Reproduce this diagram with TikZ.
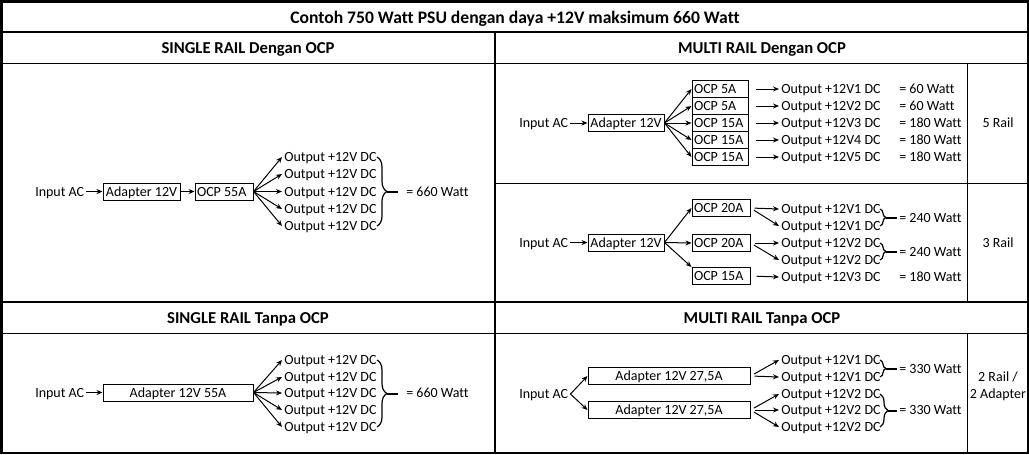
\documentclass[tikz,border=0pt]{standalone}
\usepackage{fontspec}
\setmainfont{Carlito}[Ligatures=NoCommon]
\usetikzlibrary{arrows.meta,decorations.pathreplacing}

\tikzset{
  every node/.style={font=\fontsize{10.5pt}{12.75pt}\selectfont, inner sep=1.5pt,
    text height=8pt, text depth=0.8pt},
  judul/.style={font=\fontsize{13.2pt}{15pt}\selectfont\bfseries, text height=9.6pt, text depth=0.6pt},
  kepala/.style={font=\fontsize{12.5pt}{15pt}\selectfont\bfseries, text height=9.2pt, text depth=0.6pt},
  blok/.style={draw, line width=0.75pt, minimum height=12.75pt, inner ysep=0pt},
  ocp/.style={blok, text width=#1, align=flush left},
  panah/.style={-{Stealth[length=4.5pt,width=3.75pt]}, line width=0.75pt},
  kurung/.style={decorate, decoration={brace, amplitude=#1}, line width=0.9pt},
  garis/.style={line width=0.75pt},
  tebal/.style={line width=1.5pt},
}

\begin{document}
\begin{tikzpicture}[x=0.75pt, y=-0.75pt]
  \useasboundingbox (0,0) rectangle (1029,454);

  % tabel
  \draw[line width=1.875pt] (1.25,1.25) rectangle (1027.75,452.75);
  \draw[tebal] (0,32) -- (1029,32);
  \draw[tebal] (0,302) -- (1029,302);
  \draw[tebal] (495,32) -- (495,454);
  \draw[garis] (0,63) -- (1029,63);
  \draw[garis] (0,333) -- (1029,333);
  \draw[garis] (495,183) -- (1029,183);
  \draw[garis] (967,63) -- (967,302);
  \draw[garis] (967,333) -- (967,454);

  \node[judul] (judul) at (515,17) {Contoh 750 Watt PSU dengan daya +12V maksimum 660 Watt};
  \node[kepala] (kepalaA) at (248,48) {SINGLE RAIL Dengan OCP};
  \node[kepala] (kepalaB) at (762,48) {MULTI RAIL Dengan OCP};
  \node[kepala] (kepalaE) at (248,318) {SINGLE RAIL Tanpa OCP};
  \node[kepala] (kepalaD) at (762,318) {MULTI RAIL Tanpa OCP};

  % single rail dengan OCP
  \node[anchor=west] (inA) at (33,191.5) {Input AC};
  \node[blok, minimum width=57.75pt] (adpA) at (141.5,191.5) {Adapter 12V};
  \node[ocp=40.5pt] (ocpA) at (224,191.5) {OCP 55A};
  \node[anchor=west] (oA1) at (282,157) {Output +12V DC};
  \node[anchor=west] (oA2) at (282,174) {Output +12V DC};
  \node[anchor=west] (oA3) at (282,191.5) {Output +12V DC};
  \node[anchor=west] (oA4) at (282,209) {Output +12V DC};
  \node[anchor=west] (oA5) at (282,226) {Output +12V DC};
  \node[anchor=west] (wA) at (404,191.5) {= 660 Watt};
  \draw[panah] (inA) -- (adpA);
  \draw[panah] (adpA) -- (ocpA);
  \draw[panah] (ocpA.east) -- (oA1.west);
  \draw[panah] (ocpA.east) -- (oA2.west);
  \draw[panah] (ocpA.east) -- (oA3.west);
  \draw[panah] (ocpA.east) -- (oA4.west);
  \draw[panah] (ocpA.east) -- (oA5.west);
  \draw[kurung=7.5pt] (377,157) -- (377,226);
  \draw[tebal] (387,191.5) -- (398,191.5);

  % multi rail dengan OCP, 5 rail
  \node[anchor=west] (inB) at (517,123) {Input AC};
  \node[blok, minimum width=57pt] (adpB) at (626,123) {Adapter 12V};
  \node[ocp=39pt] (ocpB1) at (720,89) {OCP 5A};
  \node[ocp=39pt] (ocpB2) at (720,106) {OCP 5A};
  \node[ocp=39pt] (ocpB3) at (720,123) {OCP 15A};
  \node[ocp=39pt] (ocpB4) at (720,140) {OCP 15A};
  \node[ocp=39pt] (ocpB5) at (720,157) {OCP 15A};
  \node[anchor=west] (oB1) at (779,89) {Output +12V1 DC};
  \node[anchor=west] (oB2) at (779,106) {Output +12V2 DC};
  \node[anchor=west] (oB3) at (779,123) {Output +12V3 DC};
  \node[anchor=west] (oB4) at (779,140) {Output +12V4 DC};
  \node[anchor=west] (oB5) at (779,157) {Output +12V5 DC};
  \node[anchor=west] (wB1) at (897,89) {= 60 Watt};
  \node[anchor=west] (wB2) at (897,106) {= 60 Watt};
  \node[anchor=west] (wB3) at (897,123) {= 180 Watt};
  \node[anchor=west] (wB4) at (897,140) {= 180 Watt};
  \node[anchor=west] (wB5) at (897,157) {= 180 Watt};
  \node (railB) at (998,123) {5 Rail};
  \draw[panah] (inB) -- (adpB);
  \draw[panah] (adpB.east) -- (ocpB1.west);
  \draw[panah] (adpB.east) -- (ocpB2.west);
  \draw[panah] (adpB.east) -- (ocpB3.west);
  \draw[panah] (adpB.east) -- (ocpB4.west);
  \draw[panah] (adpB.east) -- (ocpB5.west);
  \draw[panah, shorten <=5.25pt] (ocpB1) -- (oB1);
  \draw[panah, shorten <=5.25pt] (ocpB2) -- (oB2);
  \draw[panah, shorten <=5.25pt] (ocpB3) -- (oB3);
  \draw[panah, shorten <=5.25pt] (ocpB4) -- (oB4);
  \draw[panah, shorten <=5.25pt] (ocpB5) -- (oB5);

  % multi rail dengan OCP, 3 rail
  \node[anchor=west] (inC) at (517,242.5) {Input AC};
  \node[blok, minimum width=57pt] (adpC) at (626,242.5) {Adapter 12V};
  \node[ocp=40.5pt] (ocpC1) at (721,208) {OCP 20A};
  \node[ocp=40.5pt] (ocpC2) at (721,243) {OCP 20A};
  \node[ocp=40.5pt] (ocpC3) at (721,276) {OCP 15A};
  \node[anchor=west] (oC1) at (779,209) {Output +12V1 DC};
  \node[anchor=west] (oC2) at (779,226) {Output +12V1 DC};
  \node[anchor=west] (oC3) at (779,243) {Output +12V2 DC};
  \node[anchor=west] (oC4) at (779,260) {Output +12V2 DC};
  \node[anchor=west] (oC5) at (779,277) {Output +12V3 DC};
  \node[anchor=west] (wC1) at (897,217.5) {= 240 Watt};
  \node[anchor=west] (wC2) at (897,251.5) {= 240 Watt};
  \node[anchor=west] (wC3) at (897,277) {= 180 Watt};
  \node (railC) at (998,243) {3 Rail};
  \draw[panah] (inC) -- (adpC);
  \draw[panah] (adpC.east) -- (ocpC1.west);
  \draw[panah] (adpC.east) -- (ocpC2.west);
  \draw[panah] (adpC.east) -- (ocpC3.north west);
  \draw[panah, shorten <=3pt] (ocpC1.east) -- (oC1.west);
  \draw[panah, shorten <=3pt] (ocpC1.east) -- (oC2.west);
  \draw[panah, shorten <=3pt] (ocpC2.east) -- (oC3.west);
  \draw[panah, shorten <=3pt] (ocpC2.east) -- (oC4.west);
  \draw[panah, shorten <=4.5pt] (ocpC3.east) -- (oC5.west);
  \draw[kurung=4.5pt] (880,209) -- (880,226);
  \draw[tebal] (886,217.5) -- (897,217.5);
  \draw[kurung=4.5pt] (880,243) -- (880,260);
  \draw[tebal] (886,251.5) -- (897,251.5);

  % single rail tanpa OCP
  \node[anchor=west] (inE) at (33,392.5) {Input AC};
  \node[blok, minimum width=112.5pt] (adpE) at (178,392.5) {Adapter 12V 55A};
  \node[anchor=west] (oE1) at (282,360) {Output +12V DC};
  \node[anchor=west] (oE2) at (282,377) {Output +12V DC};
  \node[anchor=west] (oE3) at (282,393) {Output +12V DC};
  \node[anchor=west] (oE4) at (282,410) {Output +12V DC};
  \node[anchor=west] (oE5) at (282,427) {Output +12V DC};
  \node[anchor=west] (wE) at (404,393) {= 660 Watt};
  \draw[panah] (inE) -- (adpE);
  \draw[panah] (adpE.east) -- (oE1.west);
  \draw[panah] (adpE.east) -- (oE2.west);
  \draw[panah] (adpE.east) -- (oE3.west);
  \draw[panah] (adpE.east) -- (oE4.west);
  \draw[panah] (adpE.east) -- (oE5.west);
  \draw[kurung=7.5pt] (377,360) -- (377,427);
  \draw[tebal] (387,393.5) -- (398,393.5);

  % multi rail tanpa OCP
  \node[anchor=west] (inD) at (517,394) {Input AC};
  \node[blok, minimum width=121.5pt] (adpD1) at (669,376) {Adapter 12V 27,5A};
  \node[blok, minimum width=121.5pt] (adpD2) at (669,410) {Adapter 12V 27,5A};
  \node[anchor=west] (oD1) at (779,360) {Output +12V1 DC};
  \node[anchor=west] (oD2) at (779,377) {Output +12V1 DC};
  \node[anchor=west] (oD3) at (779,394) {Output +12V2 DC};
  \node[anchor=west] (oD4) at (779,410) {Output +12V2 DC};
  \node[anchor=west] (oD5) at (779,427) {Output +12V2 DC};
  \node[anchor=west] (wD1) at (897,368.5) {= 330 Watt};
  \node[anchor=west] (wD2) at (897,410) {= 330 Watt};
  \node[align=center] (railD) at (998,393.5) {2 Rail /\\2 Adapter};
  \draw[panah] (inD.east) -- (adpD1.west);
  \draw[panah] (inD.east) -- (adpD2.west);
  \draw[panah, shorten <=3pt] (adpD1.east) -- (oD1.west);
  \draw[panah, shorten <=3pt] (adpD1.east) -- (oD2.west);
  \draw[panah, shorten <=3pt] (adpD2.east) -- (oD3.west);
  \draw[panah, shorten <=3pt] (adpD2.east) -- (oD4.west);
  \draw[panah, shorten <=3pt] (adpD2.east) -- (oD5.west);
  \draw[kurung=4.5pt] (880,360) -- (880,377);
  \draw[tebal] (886,368.5) -- (897,368.5);
  \draw[kurung=6pt] (880,394) -- (880,427);
  \draw[tebal] (888,410.5) -- (897,410.5);
\end{tikzpicture}
\end{document}
